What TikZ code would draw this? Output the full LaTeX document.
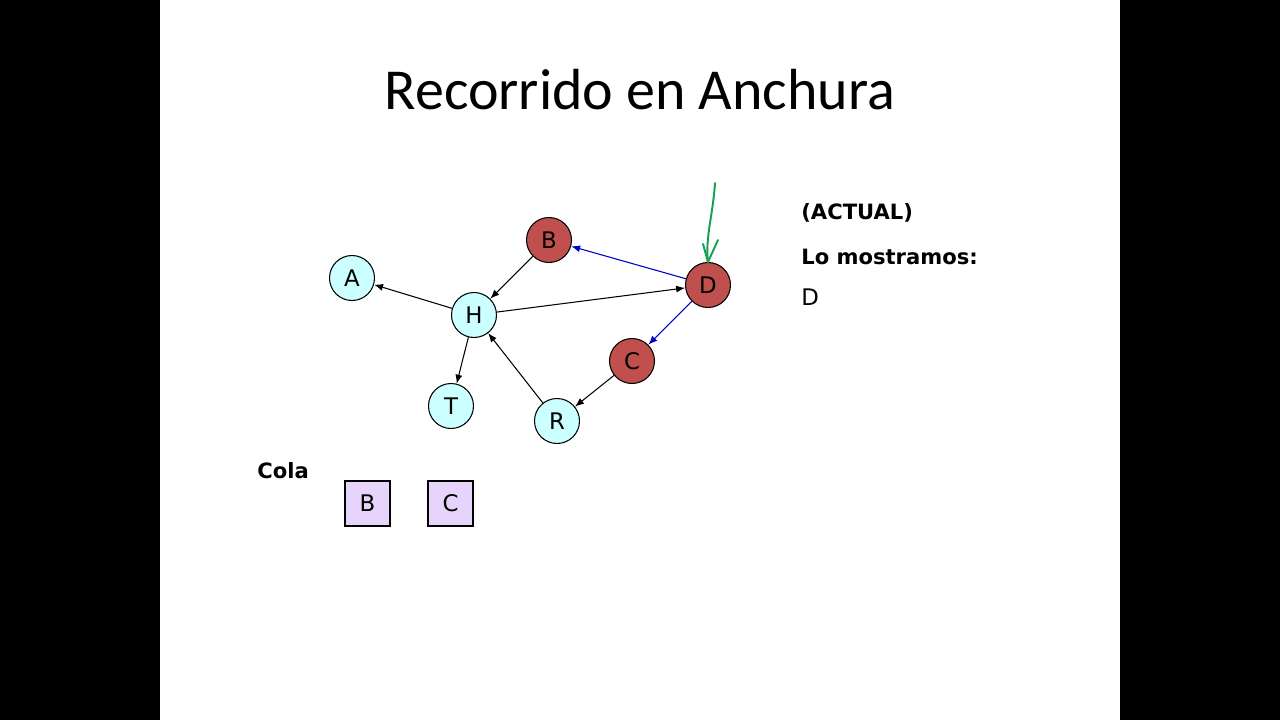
\documentclass[tikz,border=0pt]{standalone}
\usepackage{fontspec}
\setmainfont{DejaVu Sans}
\newfontfamily\titlefont{Carlito}
\definecolor{nodecyan}{RGB}{204, 255, 255}
\definecolor{visitred}{RGB}{192, 80, 77}
\definecolor{queuelila}{RGB}{230, 212, 252}
\definecolor{pengreen}{RGB}{22, 160, 78}
\definecolor{linkblue}{RGB}{0, 0, 200}
\usetikzlibrary{arrows.meta, positioning}
\tikzset{
	vertex/.style={circle, draw=black, fill=nodecyan, line width=0.6pt, minimum size=0.9cm, inner sep=0pt, font=\fontsize{13}{15}\selectfont},
	visited/.style={vertex, fill=visitred},
	queuebox/.style={rectangle, draw=black, fill=queuelila, line width=0.6pt, minimum size=0.9cm, inner sep=0pt, font=\fontsize{13}{15}\selectfont},
	label/.style={anchor=west, inner sep=0pt, font=\fontsize{12}{14}\selectfont\bfseries},
	arrow/.style={-{Latex[length=1.8mm, width=1.4mm]}, line width=0.6pt, draw=black},
	bluearrow/.style={arrow, draw=linkblue, fill=linkblue},
	penstroke/.style={draw=pengreen, line width=1.1pt, line cap=round, line join=round},
}

\begin{document}
\begin{tikzpicture}[x=0.02cm, y=-0.02cm]
		% slide and side bars
		\fill[black] (0,0) rectangle (1280,720);
		\fill[white] (160,0) rectangle (1120,720);
		\useasboundingbox (0,0) rectangle (1280,720);
		\node[font=\titlefont\fontsize{33}{38}\selectfont] (title) at (640,90) {Recorrido en Anchura};
		% graph
		\node[visited] (B) at (549,240) {B};
		\node[vertex] (A) at (352,278) {A};
		\node[vertex] (H) at (474,315) {H};
		\node[visited] (D) at (708,285) {D};
		\node[visited] (C) at (632,361) {C};
		\node[vertex] (T) at (451,406) {T};
		\node[vertex] (R) at (557,421) {R};
		\draw[arrow] (B) -- (H);
		\draw[arrow] (H) -- (A);
		\draw[arrow] (H) -- (D);
		\draw[arrow] (H) -- (T);
		\draw[arrow] (R) -- (H);
		\draw[arrow] (C) -- (R);
		\draw[bluearrow] (D) -- (B);
		\draw[bluearrow] (D) -- (C);
		% hand-drawn pointer
		\coordinate (pen) at (715,183);
		\draw[penstroke] (pen) .. controls (713,215) and (705,238) .. (D.north);
		\draw[penstroke] (D.north) -- ++(-5,-18);
		\draw[penstroke] (D.north) -- ++(10,-22);
		% queue
		\node[label] (cola) at (257,471) {Cola};
		\node[queuebox] (q1) at (367.5,503.5) {B};
		\node[queuebox] (q2) at (450.5,503.5) {C};
		% current
		\node[label] (actual) at (801,213) {(ACTUAL)};
		\node[label] (show) at (801,257) {Lo mostramos:};
		\node[anchor=west, inner sep=0pt, font=\fontsize{13}{15}\selectfont] (shown) at (801,297) {D};
	\end{tikzpicture}
\end{document}
